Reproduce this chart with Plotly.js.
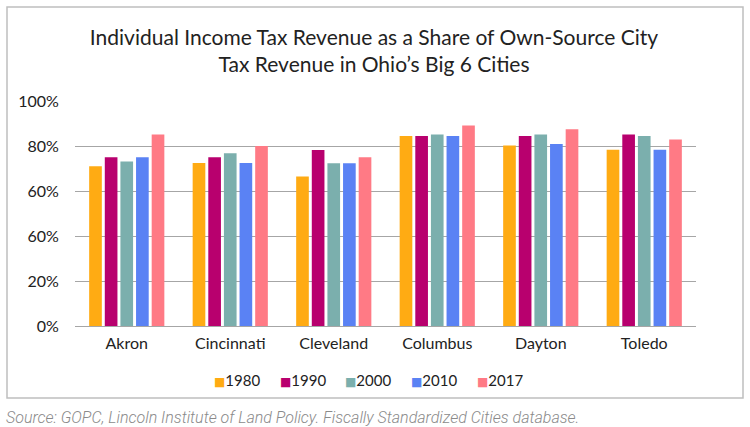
<!DOCTYPE html>
<html>
<head>
<meta charset="utf-8">
<script src="https://cdn.plot.ly/plotly-3.0.1.min.js"></script>
<style>
html,body{margin:0;padding:0;background:#fff;}
#chart{width:750px;height:427px;}
</style>
</head>
<body>
<div id="chart"></div>
<script>
var cities = ["Akron", "Cincinnati", "Cleveland", "Columbus", "Dayton", "Toledo"];
var years = ["1980", "1990", "2000", "2010", "2017"];
var v1980 = [71, 72.5, 66.4, 84.4, 80.2, 78.3];
var v1990 = [75, 75, 78.2, 84.4, 84.4, 85.1];
var v2000 = [73.1, 76.8, 72.3, 85.1, 85.1, 84.4];
var v2010 = [75, 72.5, 72.3, 84.4, 80.9, 78.3];
var v2017 = [85.1, 80, 75, 89.1, 87.4, 82.9];
var tickVals = [0, 20, 40, 60, 80, 100];
var tickText = ["0%", "20%", "60%", "60%", "80%", "100%"];
var colors = ["#FFAB13", "#B8006E", "#7BAFAD", "#5A82F4", "#FF7A85"];

var series = [v1980, v1990, v2000, v2010, v2017];
var traces = series.map(function (vals, i) {
  return {
    type: "bar",
    name: years[i],
    x: cities,
    y: vals,
    marker: {color: colors[i]},
    showlegend: false,
    hoverinfo: "x+y+name"
  };
});

var L = 75, R = 54, T = 101, B = 101, W = 750, H = 427;
var pw = W - L - R, ph = H - T - B;
function px(x) { return (x - L) / pw; }
function py(y) { return (H - B - y) / ph; }

var annotations = [{
  text: "Source: GOPC, Lincoln Institute of Land Policy. Fiscally Standardized Cities database.",
  xref: "paper", yref: "paper",
  x: px(4), y: py(417), xanchor: "left", yanchor: "middle",
  showarrow: false,
  font: {family: "Roboto, sans-serif", size: 16, color: "#8A8A8A", style: "italic", weight: 300}
}];
// legend (swatch + year), built from the years and colors arrays
years.forEach(function (yr, i) {
  annotations.push({
    text: "<span style='color:" + colors[i] + ";font-size:12px;font-family:DejaVu Sans'>■</span>" + yr,
    xref: "paper", yref: "paper",
    x: px(212 + 65.7 * i), y: py(380), xanchor: "left", yanchor: "middle",
    showarrow: false,
    font: {family: "Lato, sans-serif", size: 15, color: "#222"}
  });
});

var layout = {
  width: W, height: H,
  margin: {l: L, r: R, t: T, b: B},
  paper_bgcolor: "#fff",
  plot_bgcolor: "#fff",
  font: {family: "Lato, 'Open Sans', sans-serif", color: "#222"},
  title: {
    text: "Individual Income Tax Revenue as a Share of Own-Source City<br>Tax Revenue in Ohio’s Big 6 Cities",
    font: {size: 21, color: "#222", family: "Lato, 'Open Sans', sans-serif"},
    x: px(374), xref: "paper", xanchor: "center",
    y: 1 - 45 / H, yref: "container", yanchor: "middle"
  },
  barmode: "group",
  bargap: 0.245,
  bargroupgap: 0.19,
  showlegend: false,
  xaxis: {
    type: "category",
    tickfont: {size: 16, color: "#222"},
    showline: false,
    ticks: "outside",
    ticklen: 3,
    tickcolor: "rgba(0,0,0,0)",
    showgrid: false,
    automargin: false
  },
  yaxis: {
    range: [0, 100],
    tickvals: tickVals,
    ticktext: tickText,
    tickfont: {size: 16, color: "#222"},
    showgrid: true,
    gridcolor: "#A6A6A6",
    gridwidth: 1,
    zeroline: true,
    zerolinecolor: "#A6A6A6",
    zerolinewidth: 1,
    showline: false,
    ticks: "outside",
    ticklen: 12,
    tickcolor: "rgba(0,0,0,0)",
    automargin: false
  },
  shapes: [{
    type: "rect", xref: "paper", yref: "paper",
    x0: px(7), x1: px(743), y0: py(398), y1: py(7),
    line: {color: "#BFBFBF", width: 1.5},
    fillcolor: "rgba(0,0,0,0)",
    layer: "below"
  }],
  annotations: annotations
};

Plotly.newPlot("chart", traces, layout, {displayModeBar: false, staticPlot: true});
</script>
</body>
</html>
